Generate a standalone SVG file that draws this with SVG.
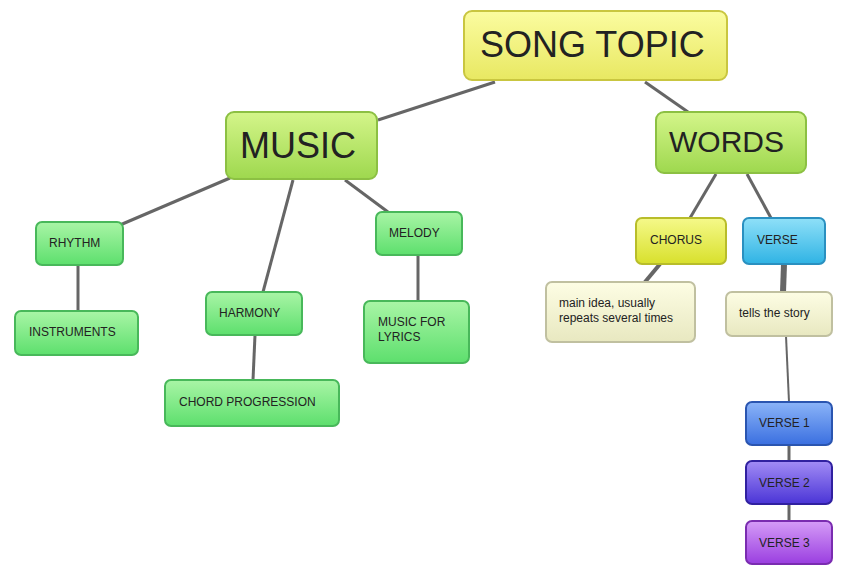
<svg xmlns="http://www.w3.org/2000/svg" width="843" height="576" viewBox="0 0 843 576">
<defs>
<linearGradient id="gY" x1="0" y1="0" x2="0" y2="1"><stop offset="0" stop-color="#fbfca0"/><stop offset="1" stop-color="#e8e862"/></linearGradient>
<linearGradient id="gG" x1="0" y1="0" x2="0" y2="1"><stop offset="0" stop-color="#d4f58a"/><stop offset="1" stop-color="#9ed84e"/></linearGradient>
<linearGradient id="gL" x1="0" y1="0" x2="0" y2="1"><stop offset="0" stop-color="#a9f5a6"/><stop offset="1" stop-color="#5ddf6d"/></linearGradient>
<linearGradient id="gC" x1="0" y1="0" x2="0" y2="1"><stop offset="0" stop-color="#f5f98a"/><stop offset="1" stop-color="#d8e02c"/></linearGradient>
<linearGradient id="gB" x1="0" y1="0" x2="0" y2="1"><stop offset="0" stop-color="#8fe0f8"/><stop offset="1" stop-color="#2fb3e4"/></linearGradient>
<linearGradient id="gN" x1="0" y1="0" x2="0" y2="1"><stop offset="0" stop-color="#fdfde4"/><stop offset="1" stop-color="#e8e8c0"/></linearGradient>
<linearGradient id="g1" x1="0" y1="0" x2="0" y2="1"><stop offset="0" stop-color="#8bb4f8"/><stop offset="1" stop-color="#3a6fe0"/></linearGradient>
<linearGradient id="g2" x1="0" y1="0" x2="0" y2="1"><stop offset="0" stop-color="#a28cf5"/><stop offset="1" stop-color="#4a34d6"/></linearGradient>
<linearGradient id="g3" x1="0" y1="0" x2="0" y2="1"><stop offset="0" stop-color="#d59cf7"/><stop offset="1" stop-color="#9a3ee0"/></linearGradient>
</defs>
<style>
rect{stroke-width:2}
text{font-family:"Liberation Sans",Arial,sans-serif;fill:#222}
.s{font-size:12px}
.conn line{stroke:#666;stroke-width:3}
</style>
<rect width="843" height="576" fill="#fff"/>
<g class="conn">
<line x1="495" y1="82" x2="378" y2="120"/>
<line x1="645" y1="82" x2="688" y2="112"/>
<line x1="230" y1="178" x2="120" y2="225"/>
<line x1="293" y1="180" x2="263" y2="292" stroke-width="4"/>
<line x1="345" y1="180" x2="388" y2="212"/>
<line x1="78" y1="265" x2="78" y2="311"/>
<line x1="255" y1="335" x2="253" y2="380"/>
<line x1="418" y1="255" x2="418" y2="301"/>
<line x1="716" y1="174" x2="690" y2="218"/>
<line x1="747" y1="174" x2="771" y2="218"/>
<line x1="660" y1="264" x2="645" y2="282" style="stroke-width:4"/>
<line x1="784" y1="264" x2="783" y2="292" style="stroke-width:6"/>
<line x1="786" y1="336" x2="789" y2="402" style="stroke-width:2"/>
<line x1="789" y1="445" x2="789" y2="461"/>
<line x1="789" y1="504" x2="789" y2="521"/>
</g>
<g id="song"><rect x="464" y="11" width="263" height="69" rx="8" fill="url(#gY)" stroke="#c9c640"/><text x="480" y="57" font-size="36">SONG TOPIC</text></g>
<g id="music"><rect x="226" y="112" width="151" height="67" rx="8" fill="url(#gG)" stroke="#8cc043"/><text x="240" y="158" font-size="36">MUSIC</text></g>
<g id="words"><rect x="656" y="112" width="150" height="61" rx="8" fill="url(#gG)" stroke="#8cc043"/><text x="669" y="152" font-size="30">WORDS</text></g>
<g id="rhythm"><rect x="36" y="222" width="87" height="43" rx="6" fill="url(#gL)" stroke="#48b85a"/><text class="s" x="49" y="247">RHYTHM</text></g>
<g id="instruments"><rect x="15" y="311" width="123" height="44" rx="6" fill="url(#gL)" stroke="#48b85a"/><text class="s" x="29" y="336">INSTRUMENTS</text></g>
<g id="harmony"><rect x="206" y="292" width="96" height="43" rx="6" fill="url(#gL)" stroke="#48b85a"/><text class="s" x="219" y="317">HARMONY</text></g>
<g id="chord"><rect x="165" y="380" width="174" height="46" rx="6" fill="url(#gL)" stroke="#48b85a"/><text class="s" x="179" y="406">CHORD PROGRESSION</text></g>
<g id="melody"><rect x="376" y="212" width="86" height="43" rx="6" fill="url(#gL)" stroke="#48b85a"/><text class="s" x="389" y="237">MELODY</text></g>
<g id="lyrics"><rect x="364" y="301" width="105" height="62" rx="6" fill="url(#gL)" stroke="#48b85a"/><text class="s" x="378" y="326">MUSIC FOR</text><text class="s" x="378" y="341">LYRICS</text></g>
<g id="chorus"><rect x="636" y="218" width="90" height="46" rx="6" fill="url(#gC)" stroke="#b8bd2a"/><text class="s" x="650" y="244">CHORUS</text></g>
<g id="verse"><rect x="743" y="218" width="82" height="46" rx="6" fill="url(#gB)" stroke="#2a90c0"/><text class="s" x="757" y="244">VERSE</text></g>
<g id="mainidea"><rect x="546" y="282" width="149" height="60" rx="6" fill="url(#gN)" stroke="#c0c0a0"/><text class="s" x="559" y="307">main idea, usually</text><text class="s" x="559" y="322">repeats several times</text></g>
<g id="tells"><rect x="726" y="292" width="106" height="44" rx="6" fill="url(#gN)" stroke="#c0c0a0"/><text class="s" x="739" y="317">tells the story</text></g>
<g id="verse1"><rect x="746" y="402" width="86" height="43" rx="6" fill="url(#g1)" stroke="#2a55b0"/><text class="s" x="759" y="427">VERSE 1</text></g>
<g id="verse2"><rect x="746" y="461" width="86" height="43" rx="6" fill="url(#g2)" stroke="#3020a0"/><text class="s" x="759" y="487">VERSE 2</text></g>
<g id="verse3"><rect x="746" y="521" width="86" height="43" rx="6" fill="url(#g3)" stroke="#7a2cb0"/><text class="s" x="759" y="547">VERSE 3</text></g>
</svg>
